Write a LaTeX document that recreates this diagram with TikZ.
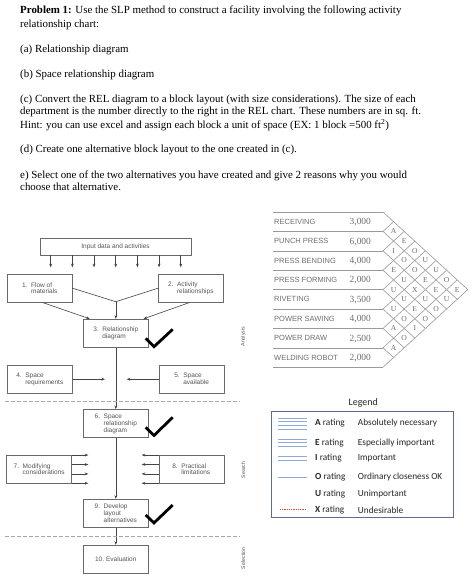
\documentclass[tikz,border=0pt]{standalone}
\usepackage{fontspec}
\setmainfont{Liberation Serif}
\newfontfamily\hvfont{Liberation Sans}
\newfontfamily\calfont{Carlito}
\usetikzlibrary{calc,arrows.meta}
\definecolor{boxgray}{HTML}{6A6A6A}
\definecolor{lngray}{HTML}{444444}
\definecolor{txtgray}{HTML}{555555}
\definecolor{relgray}{HTML}{9A9A9A}
\definecolor{deptgray}{HTML}{6E6E6E}
\definecolor{legblue}{HTML}{5A6E8C}
\definecolor{ratblue}{HTML}{8EA8D8}
\newcommand\nb[1]{\makebox[9pt][l]{#1}}
\newcommand\ind{\hspace*{9pt}}
\tikzset{
  box/.style={draw=boxgray, line width=0.5pt, minimum width=65pt, minimum height=28.3pt,
    inner sep=0pt, font=\hvfont\fontsize{6.5}{6.9}\selectfont, text=txtgray, align=left},
  arr/.style={draw=lngray, line width=0.6pt, -{Stealth[length=3.6pt,width=2.8pt]}},
  ln/.style={draw=lngray, line width=0.6pt},
  chk/.style={draw=black, line width=2.8pt, line join=miter},
  ptext/.style={anchor=base west, inner sep=0pt, font=\fontsize{10.9}{13}\selectfont},
  dept/.style={anchor=west, inner sep=0pt, font=\hvfont\fontsize{7.5}{8}\selectfont, text=deptgray},
  qty/.style={anchor=west, inner sep=0pt, font=\fontsize{9.4}{10}\selectfont, text=deptgray},
  rel/.style={inner sep=0pt, font=\fontsize{7.6}{8}\selectfont, text=deptgray},
  relln/.style={draw=relgray, line width=0.6pt},
  sidelab/.style={rotate=90, inner sep=0pt, font=\hvfont\fontsize{5.2}{6}\selectfont, text=txtgray},
  sep/.style={draw=gray!70, line width=0.6pt, dash pattern=on 3.5pt off 2.5pt},
  legt/.style={anchor=west, inner sep=0pt, font=\calfont\fontsize{9.3}{10}\selectfont, text=black!85},
  legln/.style={draw=ratblue, line width=0.9pt},
}
\begin{document}
\begin{tikzpicture}[x=1pt,y=-1pt]
\useasboundingbox[fill=white] (0,0) rectangle (474,587);

% ---------- problem text ----------
\node[ptext] (t1) at (20,13.7) {\textbf{Problem 1:} Use the SLP method to construct a facility involving the following activity};
\node[ptext] (t2) at (20,27) {relationship chart:};
\node[ptext] (t3) at (20,52) {(a) Relationship diagram};
\node[ptext] (t4) at (20,77) {(b) Space relationship diagram};
\node[ptext] (t5) at (20,102.7) {(c) Convert the REL diagram to a block layout (with size considerations). The size of each};
\node[ptext] (t6) at (20,114.7) {department is the number directly to the right in the REL chart. These numbers are in sq. ft.};
\node[ptext] (t7) at (20,128) {Hint: you can use excel and assign each block a unit of space (EX: 1 block =500 ft\textsuperscript{2})};
\node[ptext] (t8) at (20,152.7) {(d) Create one alternative block layout to the one created in (c).};
\node[ptext] (t9) at (20,178) {e) Select one of the two alternatives you have created and give 2 reasons why you would};
\node[ptext] (t10) at (20,190.4) {choose that alternative.};

% ---------- SLP flowchart ----------
\node[box, minimum width=151pt, minimum height=16.7pt, align=center] (inp) at (115.5,246.7) {Input data and activities};
\node[box] (b1) at (39.8,288.2) {\nb{1.}Flow of\\\ind materials};
\node[box] (b2) at (190.8,288.2) {\nb{2.}Activity\\\ind relationships};
\node[box] (b3) at (115.8,333.2) {\nb{3.}Relationship\\\ind diagram};
\node[box] (b4) at (39.8,379.2) {\nb{4.}Space\\\ind requirements};
\node[box] (b5) at (191.7,379.2) {\nb{5.}Space\\\ind available};
\node[box] (b6) at (115.8,423.5) {\nb{6.}Space\\\ind relationship\\\ind diagram};
\node[box] (b7) at (39.2,469.2) {\nb{7.}Modifying\\\ind considerations};
\node[box] (b8) at (191.3,469.2) {\nb{8.}Practical\\\ind limitations};
\node[box] (b9) at (115.8,513.2) {\nb{9.}Develop\\\ind layout\\\ind alternatives};
\node[box] (b10) at (115.8,559.2) {\makebox[11pt][l]{10.}Evaluation};

\foreach \i in {0,...,6} {
  \coordinate (ia\i) at ({50.7+\i*21.67},267.3);
  \draw[arr] (inp.south -| ia\i) -- (ia\i);
}
\coordinate (J) at (115.8,301.7);
\draw[ln] (b1.east) -- (J);
\draw[ln] (b2.west) -- (J);
\draw[arr] (J) -- (b3.north);
\draw[arr] ($(b1.south)+(3,0)$) -- ($(b3.north west)+(6.7,0)$);
\draw[arr] ($(b2.south)+(-1.5,0)$) -- ($(b3.north east)+(-5,0)$);
\draw[arr] (b3.south) -- (b6.north);
\coordinate (s4) at (105,379.2);
\coordinate (s5) at (126.7,379.2);
\draw[arr] (b4.east) -- (s4);
\draw[arr] (b5.west) -- (s5);
\foreach \k in {0,...,3} {
  \coordinate (m\k) at (88.3,{455.05+\k*9.4});
  \coordinate (p\k) at (141.7,{455.05+\k*9.4});
  \draw[arr] (b7.east |- m\k) -- (m\k);
  \draw[arr] (b8.west |- p\k) -- (p\k);
}
\draw[arr] (b6.south) -- (b9.north);
\draw[arr] (b9.south) -- (b10.north);

\draw[sep] (5,401.7) -- (240,401.7);
\draw[sep] (5,536.7) -- (240,536.7);
\node[sidelab] (lanal) at (243.3,336.7) {Analysis};
\node[sidelab] (lsearch) at (243.3,470) {Search};
\node[sidelab] (lsel) at (243.3,558.3) {Selection};

\draw[chk] (145.7,338.3) -- (154,346.7) -- (172.7,329.3);
\draw[chk] (145.7,427.3) -- (154,435.5) -- (172.7,417.3);
\draw[chk] (145.7,515) -- (154,522.9) -- (172.7,505);

% ---------- REL chart ----------
\def\hx{10.6}
\def\rh{19.4}
\def\ry{212}
\def\lx{383}
\foreach \k in {0,...,8} {
  \draw[relln] (273,{\ry+\k*\rh}) -- (\lx,{\ry+\k*\rh});
  \draw[relln] (\lx,{\ry+\k*\rh}) -- ++({(8-\k)*\hx},{(8-\k)*\rh/2});
  \draw[relln] (\lx,{\ry+\k*\rh}) -- ++({\k*\hx},{-\k*\rh/2});
}
\foreach \n/\nm/\q in {1/RECEIVING/{3,000},2/PUNCH PRESS/{6,000},3/PRESS BENDING/{4,000},
  4/PRESS FORMING/{2,000},5/RIVETING/{3,500},6/POWER SAWING/{4,000},7/POWER DRAW/{2,500},
  8/WELDING ROBOT/{2,000}} {
  \node[dept] (d\n) at (274,{\ry+(\n-0.5)*\rh}) {\nm};
  \node[qty] (q\n) at (349.5,{\ry+(\n-0.5)*\rh+0.5}) {\q};
}
\foreach \i/\j/\L in {1/2/A,2/3/I,3/4/E,4/5/U,5/6/U,6/7/A,7/8/A,
  1/3/E,2/4/O,3/5/U,4/6/U,5/7/O,6/8/O,
  1/4/O,2/5/O,3/6/X,4/7/E,5/8/I,
  1/5/U,2/6/E,3/7/U,4/8/O,
  1/6/U,2/7/E,3/8/O,
  1/7/O,2/8/U,
  1/8/E} {
  \node[rel] (r\i\j) at ({\lx+(\j-\i)*\hx},{\ry+((\i+\j)/2-0.5)*\rh}) {\L};
}

% ---------- Legend ----------
\node[inner sep=0pt, font=\calfont\fontsize{10}{12}\selectfont, text=black!85] (lgt) at (363.3,403.3) {Legend};
\node[draw=legblue, line width=0.8pt, minimum width=181.6pt, minimum height=106pt, inner sep=0pt] (leg) at (362.5,464.7) {};
\foreach \yy in {418.3,421.9,425.6,429.3,439.3,442.7,446,456,460,477.3} {
  \draw[legln] (278.3,\yy) -- (306.7,\yy);
}
\draw[draw=red!75, line width=0.7pt, dash pattern=on 0.9pt off 0.9pt] (280,509.3) -- (306.7,509.3);
\node[legt] (la) at (315,423.3) {\textbf{A} rating};
\node[legt] (le) at (315,443.3) {\textbf{E} rating};
\node[legt] (li) at (315,458.3) {\textbf{I} rating};
\node[legt] (lo) at (315,477.3) {\textbf{O} rating};
\node[legt] (lu) at (315,494) {\textbf{U} rating};
\node[legt] (lx) at (315,510) {\textbf{X} rating};
\node[legt] (da) at (357.7,423.3) {Absolutely necessary};
\node[legt] (de) at (357.7,443.3) {Especially important};
\node[legt] (di) at (357.7,458.3) {Important};
\node[legt] (do) at (357.7,477.3) {Ordinary closeness OK};
\node[legt] (du) at (357.7,494) {Unimportant};
\node[legt] (dx) at (357.7,510) {Undesirable};
\end{tikzpicture}
\end{document}
